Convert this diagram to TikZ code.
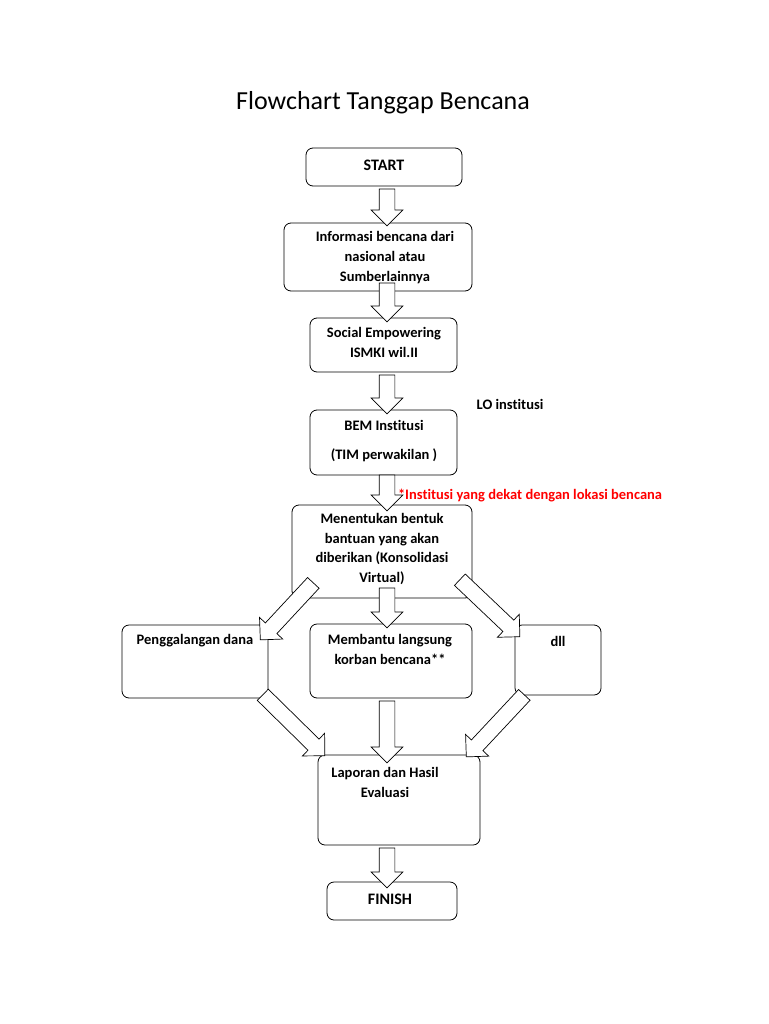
\documentclass[tikz,border=0pt]{standalone}
\usepackage{fontspec}
\setmainfont{Carlito}[Ligatures={NoCommon}]
\usetikzlibrary{shapes.arrows,calc}
\begin{document}
\begin{tikzpicture}[x=1pt,y=-1pt,
  box/.style={draw,rounded corners=7pt,line width=0.8pt},
  txt/.style={font=\fontsize{14.5}{20}\selectfont\bfseries,align=center,inner sep=0pt},
  barr/.style={draw,fill=white,line width=0.7pt,single arrow,inner sep=0pt,
    text height=0pt,text depth=0pt,inner ysep=7.5pt,single arrow head extend=8pt,
    single arrow head indent=0pt,shape border uses incircle=false}]
\useasboundingbox (0,0) rectangle (768,1024);
\node[font=\fontsize{26}{30}\selectfont] (title) at (383,103) {Flowchart Tanggap Bencana};
% boxes
\draw[box] (306,148) rectangle (462,186);
\draw[box] (284,223) rectangle (472,291);
\draw[box] (310,318) rectangle (457,372);
\draw[box] (310,410) rectangle (457,475);
\draw[box] (292,505) rectangle (472,598);
\draw[box] (122,625) rectangle (268,698);
\draw[box] (310,624) rectangle (472,698);
\draw[box] (515,625) rectangle (601,695);
\draw[box] (318,755) rectangle (480,845);
\draw[box] (327,882) rectangle (457,920);
% arrow end coordinates
\foreach \n/\x/\y in {a1/387/185,a2/387/222,b1/387/279,b2/387/318,c1/387/371,c2/387/410,
  d1/387/471,d2/387/507,e1/316/580,e2/263/637,f1/387/584,f2/387/624,g1/457/577,g2/517/634,
  h1/260/692,h2/322/753,i1/387/697,i2/387/759,j1/527/692,j2/469/754,k1/387/844,k2/387/884}
  \coordinate (\n) at (\x,\y);
\foreach \s/\t in {a1/a2,b1/b2,c1/c2,d1/d2,e1/e2,f1/f2,g1/g2,h1/h2,i1/i2,j1/j2,k1/k2}
  \path let \p1=(\s), \p2=(\t), \n1={atan2(\y2-\y1,\x2-\x1)}, \n2={veclen(\x2-\x1,\y2-\y1)} in
    node[barr,minimum height=\n2,rotate=\n1] at ($(\s)!0.5!(\t)$) {};
% texts
\node[txt,font=\fontsize{16}{20}\selectfont\bfseries] (tS) at (384,165) {START};
\node[txt] (tI) at (385,258) {Informasi bencana dari\\nasional atau\\Sumberlainnya};
\node[txt] (tSo) at (384,342) {Social Empowering\\ISMKI wil.II};
\node[txt] (tB1) at (384,425) {BEM Institusi};
\node[txt] (tB2) at (384,455) {(TIM perwakilan )};
\node[txt] (tLO) at (510,404) {LO institusi};
\node[txt,text=red] (tR) at (530,496) {*Institusi yang dekat dengan lokasi bencana};
\node[txt,font=\fontsize{14.5}{19.5}\selectfont\bfseries] (tM) at (382,549) {Menentukan bentuk\\bantuan yang akan\\diberikan (Konsolidasi\\Virtual)};
\node[txt] (tP) at (195,641) {Penggalangan dana};
\node[txt] (tMb) at (390,649) {Membantu langsung\\korban bencana**};
\node[txt] (tD) at (558,641) {dll};
\node[txt] (tL) at (385,782) {Laporan dan Hasil\\Evaluasi};
\node[txt,font=\fontsize{16}{20}\selectfont\bfseries] (tF) at (390,899) {FINISH};
\end{tikzpicture}
\end{document}
